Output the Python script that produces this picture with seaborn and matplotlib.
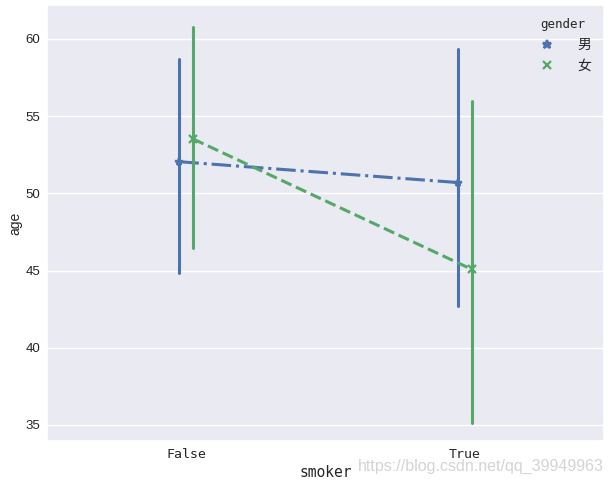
import numpy as np
import pandas as pd
import matplotlib
matplotlib.use("Agg")
import matplotlib.pyplot as plt
import seaborn as sns

# ---- data ----
smoker_levels = ["False", "True"]
gender_levels = ["男", "女"]
mean_male = [52.05, 50.70]
low_male = [44.87, 42.71]
high_male = [58.69, 59.33]
mean_female = [53.52, 45.08]
low_female = [46.44, 35.15]
high_female = [60.80, 55.98]

rows = []
for g, m, lo, hi in [("男", mean_male, low_male, high_male),
                     ("女", mean_female, low_female, high_female)]:
    for i, s in enumerate(smoker_levels):
        for v in (lo[i], m[i], hi[i]):
            rows.append({"smoker": s, "gender": g, "age": v})
df = pd.DataFrame(rows)

sns.set_theme(style="darkgrid")
plt.rcParams["font.family"] = ["Liberation Sans", "Noto Sans CJK SC"]
mono = ["DejaVu Sans Mono", "Noto Sans CJK SC"]

fig = plt.figure(figsize=(6.12, 4.86), dpi=100)
ax = fig.add_axes([0.0768, 0.0926, 0.9102, 0.8971])

sns.pointplot(data=df, x="smoker", y="age", hue="gender",
              order=smoker_levels, hue_order=gender_levels,
              estimator="median", errorbar=("pi", 100),
              dodge=True, markers=["*", "x"], linestyles=["-.", "--"],
              palette=["#4C72B0", "#55A868"], linewidth=2.2,
              err_kws={"linewidth": 2.2}, ax=ax)

ax.set_ylim(33.96, 62.2)
ax.set_xlim(-0.5, 1.5)
ax.tick_params(axis="y", labelsize=9.5, pad=5, length=0)
ax.tick_params(axis="x", pad=5, length=0)
for lab in ax.get_xticklabels():
    lab.set_family(mono)
    lab.set_fontsize(9.5)
ax.set_xlabel("smoker", family=mono, fontsize=10.5, labelpad=3)
ax.set_ylabel("age", fontsize=10, labelpad=2)

handles, labels = ax.get_legend_handles_labels()
for h in handles:
    h.set_linestyle("none")
    h.set_markersize(h.get_markersize() * 1.15)
leg = ax.legend(handles, labels, title="gender", loc="upper right",
                frameon=False, prop={"family": mono, "size": 10},
                borderaxespad=0.5, handletextpad=1.2)
leg.get_title().set_family(mono)
leg.get_title().set_fontsize(9)

fig.text(0.987, 0.025, "https://blog.csdn.net/qq_39949963", ha="right",
         va="bottom", color="#d4d4d4", fontsize=11.5,
         family=["Liberation Sans"])

fig.savefig("out.png", dpi=100)
